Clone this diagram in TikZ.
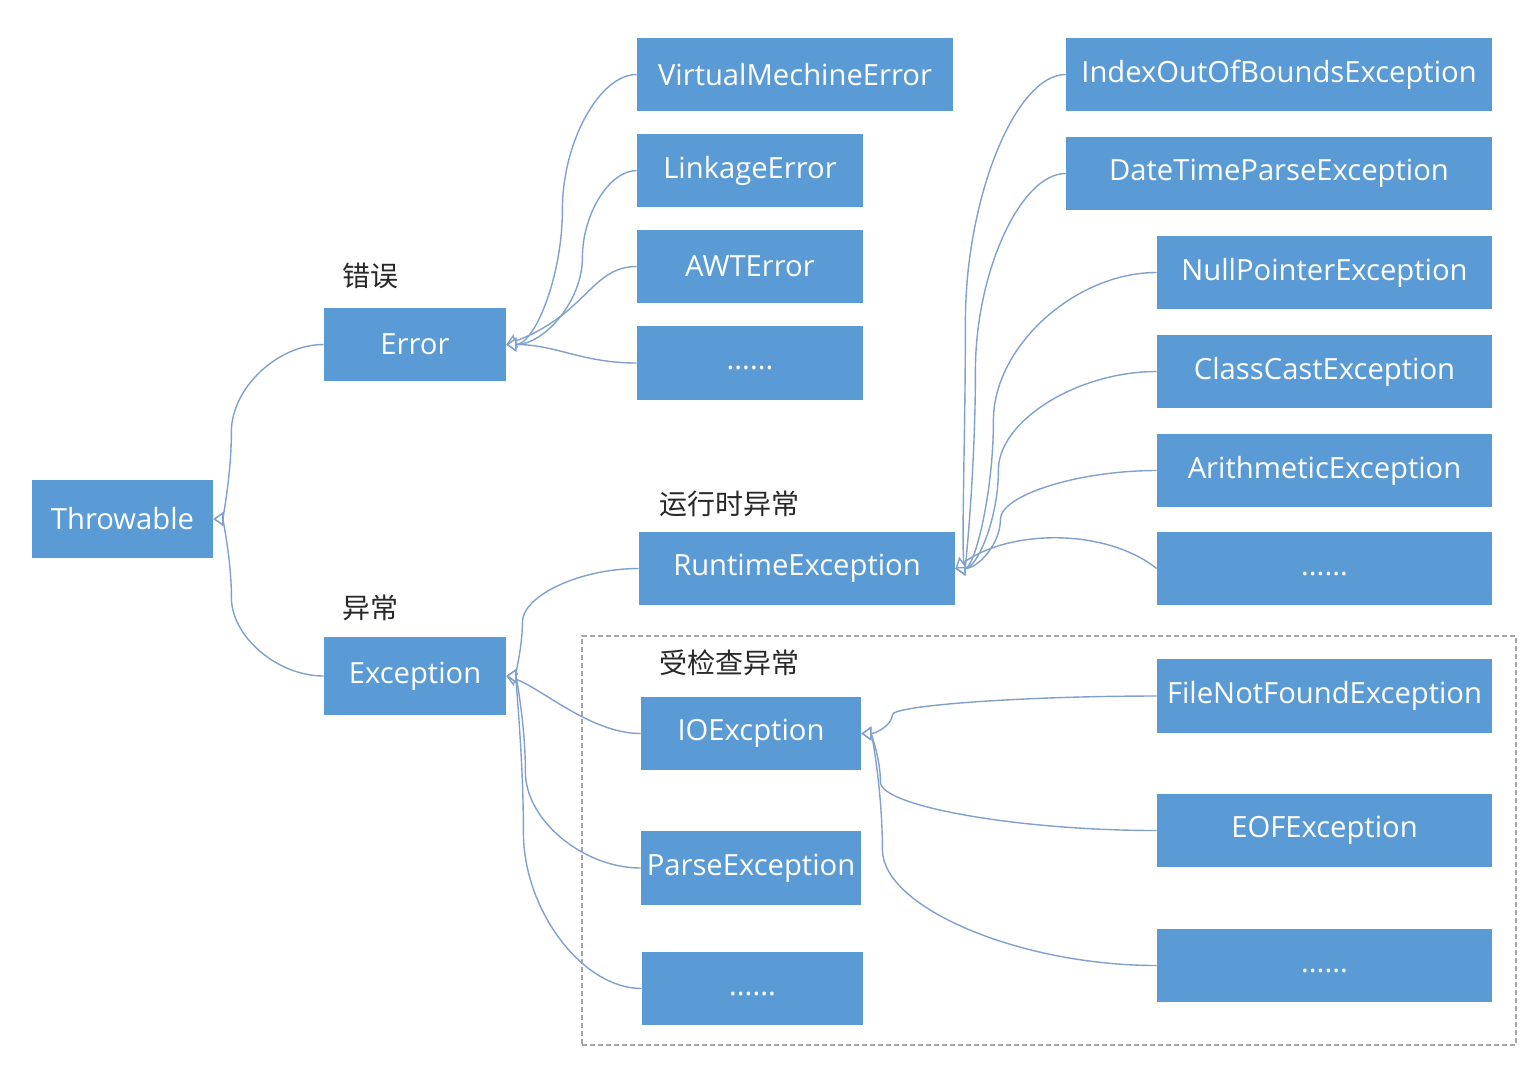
\documentclass[tikz,border=0pt]{standalone}
\usepackage{fontspec}
\setmainfont{Open Sans}
\newfontfamily\cjk{Noto Sans CJK SC}
\usetikzlibrary{arrows.meta,calc}
\definecolor{boxblue}{RGB}{91,155,213}
\definecolor{linecol}{RGB}{128,160,205}
\definecolor{dashgray}{RGB}{165,165,165}
\definecolor{lbltext}{RGB}{40,40,40}
\begin{document}
\begin{tikzpicture}[x=0.5pt,y=-0.5pt,
  box/.style={fill=boxblue,text=white,inner sep=0pt,font=\fontsize{14.6}{17}\selectfont},
  wh/.style 2 args={minimum width=#1*0.5pt,minimum height=#2*0.5pt},
  lbl/.style={font=\cjk\fontsize{14}{16}\selectfont,text=lbltext,inner sep=0pt},
  conn/.style={draw=linecol,line width=0.7pt,{Triangle[open,length=5pt,width=7pt,fill=white]}-},
  curv/.style={to path={let \p1=(\tikztostart), \p2=(\tikztotarget) in
    .. controls ({\x1+#1/2},\y1) and ({\x1+#1},{\y1+(\y2-\y1)/4}) ..
    ({\x1+#1},{(\y1+\y2)/2})
    .. controls ({\x1+#1},{\y1+3*(\y2-\y1)/4}) and ({(\x1+#1+\x2)/2},\y2) ..
    (\tikztotarget) \tikztonodes}}]
\useasboundingbox (0,0) rectangle (1540,1078);

% dashed frame
\node[draw=dashgray,dashed,dash pattern=on 2.5pt off 1.5pt,line width=0.6pt,wh={934}{409},inner sep=0pt] (chk) at (1049,840.5) {};

% boxes
\node[box,wh={181}{78}] (thr) at (122.5,519) {Throwable};
\node[box,wh={182}{73}] (err) at (415,344.5) {Error};
\node[box,wh={182}{78}] (exc) at (415,676) {Exception};

\node[box,wh={316}{73}] (vme) at (795,74.5) {VirtualMechineError};
\node[box,wh={226}{73}] (lnk) at (750,170.5) {LinkageError};
\node[box,wh={226}{73}] (awt) at (750,266.5) {AWTError};
\node[box,wh={226}{74}] (ed) at (750,363) {\vphantom{Ag}......};

\node[box,wh={316}{73}] (rt) at (797,568.5) {RuntimeException};
\node[box,wh={426}{73}] (ioobe) at (1279,74.5) {IndexOutOfBoundsException};
\node[box,wh={426}{73}] (dtpe) at (1279,173.5) {DateTimeParseException};
\node[box,wh={335}{73}] (npe) at (1324.5,272.5) {NullPointerException};
\node[box,wh={335}{73}] (cce) at (1324.5,371.5) {ClassCastException};
\node[box,wh={335}{73}] (ae) at (1324.5,470.5) {ArithmeticException};
\node[box,wh={335}{73}] (rd) at (1324.5,568.5) {\vphantom{Ag}......};

\node[box,wh={220}{73}] (ioe) at (751,733.5) {IOExcption};
\node[box,wh={220}{74}] (pe) at (751,868) {ParseException};
\node[box,wh={221}{73}] (xd) at (752.5,988.5) {\vphantom{Ag}......};
\node[box,wh={335}{74}] (fnf) at (1324.5,696) {FileNotFoundException};
\node[box,wh={335}{73}] (eof) at (1324.5,830.5) {EOFException};
\node[box,wh={335}{73}] (iod) at (1324.5,965.5) {\vphantom{Ag}......};

% labels
\node[lbl] (lerr) at (370.5,276) {错误};
\node[lbl] (lexc) at (370.5,608) {异常};
\node[lbl] (lrt) at (729,504) {运行时异常};
\node[lbl] (lchk) at (729,662.5) {受检查异常};

% connectors
\draw[conn] (thr.east) to[curv=9pt] (err.west);
\draw[conn] (thr.east) to[curv=9pt] (exc.west);

\draw[conn] (err.east) to[curv=28pt] (vme.west);
\draw[conn] (err.east) to[curv=38pt] (lnk.west);
\draw[conn] (err.east) .. controls +(80,-30) and +(-45,0) .. (awt.west);
\draw[conn] (err.east) .. controls +(50,0) and +(-55,0) .. (ed.west);

\draw[conn] (exc.east) to[curv=8pt] (rt.west);
\draw[conn] (exc.east) .. controls +(35,12) and +(-50,0) .. (ioe.west);
\draw[conn] (exc.east) to[curv=9.5pt] (pe.west);
\draw[conn] (exc.east) to[curv=8.5pt] (xd.west);

\draw[conn] (rt.east) to[curv=5pt] (ioobe.west);
\draw[conn] (rt.east) to[curv=10pt] (dtpe.west);
\draw[conn] (rt.east) to[curv=19pt] (npe.west);
\draw[conn] (rt.east) to[curv=21.5pt] (cce.west);
\draw[conn] (rt.east) to[curv=22.5pt] (ae.west);
\draw[conn] (rt.east) .. controls +(55,-40) and +(-50,-40) .. (rd.west);

\draw[conn] (ioe.east) to[curv=15.5pt] (fnf.west);
\draw[conn] (ioe.east) to[curv=9.5pt] (eof.west);
\draw[conn] (ioe.east) to[curv=10.5pt] (iod.west);
\end{tikzpicture}
\end{document}
